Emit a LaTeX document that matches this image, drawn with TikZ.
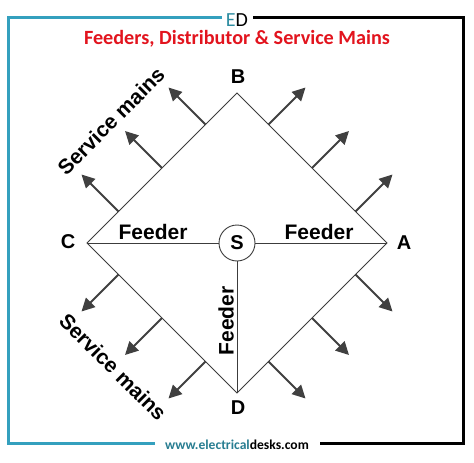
\documentclass[tikz,border=0pt]{standalone}
\usepackage{fontspec}
\setmainfont{Liberation Sans}
\newfontfamily\calib{Carlito}
\usetikzlibrary{arrows.meta,calc}
\definecolor{framecyan}{RGB}{52,160,190}
\definecolor{edteal}{RGB}{45,140,160}
\definecolor{urlteal}{RGB}{40,125,145}
\definecolor{titlered}{RGB}{226,20,30}
\definecolor{arrowgray}{RGB}{64,64,64}
\definecolor{linegray}{RGB}{60,60,60}
\tikzset{
  wire/.style={draw=linegray, line width=0.9pt},
  sm/.style={draw=arrowgray, line width=2pt, -{Triangle[length=13pt,width=13pt]}},
  vlabel/.style={font=\fontsize{20}{20}\selectfont\bfseries, inner sep=0pt},
  flabel/.style={font=\fontsize{21}{21}\selectfont\bfseries, inner sep=0pt},
  framec/.style={draw=framecyan, line width=3pt},
  frameb/.style={draw=black, line width=3pt},
}
\begin{document}
\begin{tikzpicture}[x=1pt,y=-1pt]
\useasboundingbox (0,0) rectangle (474,463);
% frame
\coordinate (f1) at (222,17);
\coordinate (f2) at (8,17);
\coordinate (f3) at (8,443);
\coordinate (f4) at (155,443);
\coordinate (g1) at (253,17);
\coordinate (g2) at (463,17);
\coordinate (g3) at (463,443);
\coordinate (g4) at (320,443);
\draw[framec] (f1) -- (f2) -- (f3) -- (f4);
\draw[frameb] (g1) -- (g2) -- (g3) -- (g4);
\node[inner sep=0pt, font=\calib\fontsize{20}{20}\selectfont] (ed) at (237,20) {\textcolor{edteal}{E}D};
\node[inner sep=0pt, text=titlered, font=\calib\fontsize{20.2}{20.2}\selectfont\bfseries] (title) at (237,39) {Feeders, Distributor \& Service Mains};
\node[inner sep=0pt, font=\calib\fontsize{13.6}{13.6}\selectfont\bfseries] (url) at (237,445) {\textcolor{urlteal}{www.electrical}desks.com};
% diamond
\coordinate (C) at (87,243);
\coordinate (B) at (237,93);
\coordinate (A) at (387,243);
\coordinate (D) at (237,393);
\draw[wire] (C) -- (B) -- (A) -- (D) -- cycle;
\node[wire, circle, minimum size=36pt, inner sep=0pt, fill=white, font=\fontsize{20}{20}\selectfont\bfseries] (S) at (237,243) {S};
\draw[wire] (S) -- (C);
\draw[wire] (S) -- (A);
\draw[wire] (S) -- (D);
% vertex labels
\node[vlabel] (lB) at (238,77) {B};
\node[vlabel] (lC) at (68,242) {C};
\node[vlabel] (lA) at (404,243) {A};
\node[vlabel] (lD) at (238,408) {D};
% feeder labels
\node[flabel] (fl) at (153,232) {Feeder};
\node[flabel] (fr) at (319,232) {Feeder};
\node[flabel, rotate=90] (fv) at (226,321) {Feeder};
% service mains labels
\node[flabel, rotate=45] (smt) at (111,121) {Service mains};
\node[flabel, rotate=-45] (smb) at (113,367) {Service mains};
% service mains arrows
\foreach \t [count=\i] in {0.21,0.5,0.79}{
  \coordinate (cb\i) at ($(C)!\t!(B)$);
  \coordinate (ba\i) at ($(B)!\t!(A)$);
  \coordinate (cd\i) at ($(C)!\t!(D)$);
  \coordinate (ad\i) at ($(A)!\t!(D)$);
  \draw[sm] (cb\i) -- ++(-37,-37);
  \draw[sm] (ba\i) -- ++(37,-37);
  \draw[sm] (cd\i) -- ++(-37,37);
  \draw[sm] (ad\i) -- ++(37,37);
}
\end{tikzpicture}
\end{document}
